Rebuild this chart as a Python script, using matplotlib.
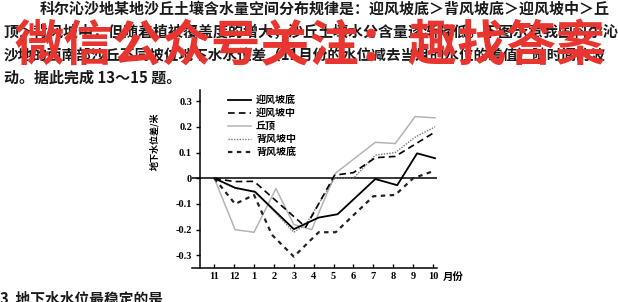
import matplotlib.pyplot as plt

plt.rcParams["font.family"] = ["Noto Sans CJK SC", "DejaVu Sans"]

W, H = 618, 302

# ── 数据 ──────────────────────────────────────────────
month_labels = ["11", "12", "1", "2", "3", "4", "5", "6", "7", "8", "9", "10"]

x_ywpd = [0, 1.05, 2.05, 4.0, 5.25, 6.2, 8.1, 9.2, 10.2, 11.1]
y_ywpd = [0, -0.037, -0.053, -0.198, -0.153, -0.14, -0.003, -0.027, 0.097, 0.078]

x_ywpz = [0, 1.0, 2.0, 4.6, 6.05, 7.0, 8.1, 9.1, 11.1]
y_ywpz = [0, -0.013, -0.012, -0.19, 0.012, 0.022, 0.08, 0.085, 0.18]

x_qd = [0, 1.05, 2.0, 3.1, 4.0, 4.9, 6.1, 8.1, 9.1, 10.1, 11.1]
y_qd = [0, -0.2, -0.21, -0.04, -0.18, -0.2, 0.02, 0.14, 0.135, 0.24, 0.235]

x_bfpz = [0, 1.05, 2.05, 4.0, 4.6, 6.05, 7.0, 8.1, 9.1, 10.1, 11.1]
y_bfpz = [0, -0.04, -0.05, -0.21, -0.18, 0.0, 0.0, 0.09, 0.1, 0.16, 0.2]

x_bfpd = [0, 1.05, 2.0, 2.9, 4.0, 5.25, 6.1, 8.0, 9.1, 10.0, 11.1]
y_bfpd = [0, -0.1, -0.065, -0.22, -0.305, -0.21, -0.21, -0.07, -0.065, 0.0, 0.03]

y_ticks = [-0.3, -0.2, -0.1, 0, 0.1, 0.2, 0.3]
y_tick_labels = ["-0.3", "-0.2", "-0.1", "0", "0.1", "0.2", "0.3"]

text_lines = [
    "科尔沁沙地某地沙丘土壤含水量空间分布规律是：迎风坡底＞背风坡底＞迎风坡中＞丘",
    "顶＞背风坡中，但随着植被覆盖度的增大，沙丘土壤水分含量逐渐降低。下图示意我国科尔沁",
    "沙地的西南部沙丘不同坡位地下水水位差（11月份的水位减去当月的水位的差值）随时间的波",
    "动。据此完成 13～15 题。",
]

# ── 画布 ──────────────────────────────────────────────
fig = plt.figure(figsize=(W / 100, H / 100), dpi=100)
fig.patch.set_facecolor("white")

def px(x, y):
    return x / W, 1 - y / H

ax_l, ax_r, ax_t, ax_b = 192, 437, 89.6, 267.7
ax = fig.add_axes([ax_l / W, 1 - ax_b / H, (ax_r - ax_l) / W, (ax_b - ax_t) / H])
ax.set_xlim(-1.12, 11.2)
ax.set_ylim(-0.348, 0.345)

for s in ["top", "right"]:
    ax.spines[s].set_visible(False)
ax.spines["left"].set_position(("data", -0.7))
ax.spines["left"].set_linewidth(1.1)
ax.spines["bottom"].set_linewidth(1.1)

ax.axhline(0, color="black", lw=1.1, zorder=1)

ax.plot(x_qd, y_qd, color="#b4b4b4", lw=1.1, label="丘顶", zorder=2)
ax.plot(x_bfpz, y_bfpz, color="#777777", lw=1.0, ls=(0, (1, 1)), label="背风坡中", zorder=3)
ax.plot(x_ywpz, y_ywpz, color="black", lw=1.2, ls=(0, (4, 2.5)), label="迎风坡中", zorder=4)
ax.plot(x_bfpd, y_bfpd, color="#222222", lw=1.6, ls=(0, (2, 2)), label="背风坡底", zorder=4)
ax.plot(x_ywpd, y_ywpd, color="black", lw=1.3, label="迎风坡底", zorder=5)

ax.set_xticks(range(len(month_labels)))
ax.set_xticklabels(month_labels, family=["Liberation Serif"], fontweight="bold", fontsize=7.5)
ax.set_yticks(y_ticks)
ax.set_yticklabels(y_tick_labels, family=["Liberation Serif"], fontweight="bold", fontsize=7.5)
ax.tick_params(axis="x", direction="in", length=3, width=1, pad=3)
ax.tick_params(axis="y", direction="out", length=3, width=1, pad=3)

handles, labels = ax.get_legend_handles_labels()
order = ["迎风坡底", "迎风坡中", "丘顶", "背风坡中", "背风坡底"]
hmap = dict(zip(labels, handles))
leg = ax.legend([hmap[k] for k in order], order, loc="upper left",
                bbox_to_anchor=((228 - ax_l) / (ax_r - ax_l), 1 - (95 - ax_t) / (ax_b - ax_t)),
                frameon=False, fontsize=7.2, handlelength=2.3, handletextpad=0.5,
                labelspacing=0.3, borderpad=0, borderaxespad=0)
for t in leg.get_texts():
    t.set_fontweight("bold")

fig.text(*px(155, 141), "地下水位差/米", rotation=90, ha="center", va="center",
         fontsize=6.5, fontweight="bold")
fig.text(*px(443, 277), "月份", ha="left", va="center", fontsize=7.5, fontweight="bold")

# ── 题干文字 ──────────────────────────────────────────
line_y = [9, 32, 55, 78]
line_x = [40, 4, 4, 4]
line_fs = [10.8, 10.8, 10.5, 10.8]
for s, lx, ly, fs in zip(text_lines, line_x, line_y, line_fs):
    fig.text(*px(lx, ly), s, ha="left", va="center", fontsize=fs, fontweight="bold",
             color="#1a1a1a")

fig.text(*px(0, 299), "3  地下水水位最稳定的是", ha="left", va="center",
         fontsize=10.6, fontweight="bold", color="#1a1a1a")

# 水印
fig.text(*px(310, 47), "微信公众号关注：趣找答案", ha="center", va="center",
         fontsize=35.5, fontweight="bold", color="#e8352f")

fig.savefig("out.png", dpi=100, facecolor="white")
